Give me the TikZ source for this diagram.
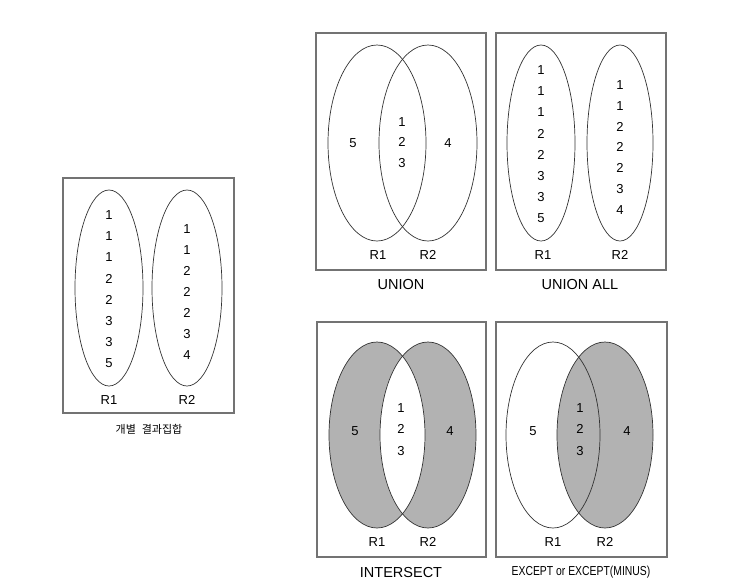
\documentclass[tikz,border=0pt]{standalone}
\usepackage{fontspec}
\setmainfont{Liberation Sans}
\newfontfamily\kr{Noto Sans CJK KR}
\begin{document}
\begin{tikzpicture}[x=1pt,y=-1pt,
  frame/.style={draw=black!55,line width=1.1pt},
  ell/.style={draw=black!80,line width=0.7pt},
  txt/.style={font=\fontsize{13}{15}\selectfont,inner sep=0pt},
  captxt/.style={font=\fontsize{14.5}{16}\selectfont,inner sep=0pt},
  shade/.style={fill=black!30}]
\useasboundingbox (0,0) rectangle (744,587);
% left box
\draw[frame] (63,178) rectangle (234,413);
\draw[ell] (109,288) ellipse[x radius=34,y radius=98];
\draw[ell] (187,288) ellipse[x radius=35,y radius=98];
\foreach \v [count=\i from 0] in {1,1,1,2,2,3,3,5}
  \node[txt] (l1\i) at (109,215+21.2*\i) {\v};
\foreach \v [count=\i from 0] in {1,1,2,2,2,3,4}
  \node[txt] (l2\i) at (187,229+21*\i) {\v};
\node[txt] (lr1) at (109,400) {R1};
\node[txt] (lr2) at (187,400) {R2};
\node[inner sep=0pt,font=\kr\fontsize{11}{13}\selectfont] (lcap) at (149,429) {개별\hspace{6pt}결과집합};
% UNION
\draw[frame] (316,33) rectangle (486,270);
\draw[ell] (377,143) ellipse[x radius=49,y radius=98];
\draw[ell] (428,143) ellipse[x radius=49,y radius=98];
\node[txt] (u1) at (402,122) {1};
\node[txt] (u2) at (402,142) {2};
\node[txt] (u3) at (402,163) {3};
\node[txt] (u5) at (353,143) {5};
\node[txt] (u4) at (448,143) {4};
\node[txt] (ur1) at (378,255) {R1};
\node[txt] (ur2) at (428,255) {R2};
\node[captxt] (ucap) at (401,285) {UNION};
% UNION ALL
\draw[frame] (496,33) rectangle (666,270);
\draw[ell] (541,143) ellipse[x radius=34,y radius=98];
\draw[ell] (620,143) ellipse[x radius=33,y radius=98];
\foreach \v [count=\i from 0] in {1,1,1,2,2,3,3,5}
  \node[txt] (a1\i) at (541,70+21.2*\i) {\v};
\foreach \v [count=\i from 0] in {1,1,2,2,2,3,4}
  \node[txt] (a2\i) at (620,85+20.8*\i) {\v};
\node[txt] (ar1) at (543,255) {R1};
\node[txt] (ar2) at (620,255) {R2};
\node[captxt] (acap) at (580,285) {UNION ALL};
% INTERSECT
\draw[frame] (317,322) rectangle (486,557);
\fill[shade] (377,435) ellipse[x radius=48,y radius=93];
\fill[shade] (428,435) ellipse[x radius=48,y radius=93];
\begin{scope}
\clip (377,435) ellipse[x radius=48,y radius=93];
\fill[white] (428,435) ellipse[x radius=48,y radius=93];
\end{scope}
\draw[ell] (377,435) ellipse[x radius=48,y radius=93];
\draw[ell] (428,435) ellipse[x radius=48,y radius=93];
\node[txt] (i1) at (401,408) {1};
\node[txt] (i2) at (401,429) {2};
\node[txt] (i3) at (401,451) {3};
\node[txt] (i5) at (355,431) {5};
\node[txt] (i4) at (450,431) {4};
\node[txt] (ir1) at (377,542) {R1};
\node[txt] (ir2) at (428,542) {R2};
\node[captxt] (icap) at (401,572) {INTERSECT};
% EXCEPT
\draw[frame] (496,322) rectangle (667,557);
\fill[shade] (605,435) ellipse[x radius=48,y radius=93];
\draw[ell] (553,435) ellipse[x radius=47,y radius=93];
\draw[ell] (605,435) ellipse[x radius=48,y radius=93];
\node[txt] (e1) at (580,408) {1};
\node[txt] (e2) at (580,429) {2};
\node[txt] (e3) at (580,451) {3};
\node[txt] (e5) at (533,431) {5};
\node[txt] (e4) at (627,431) {4};
\node[txt] (er1) at (553,542) {R1};
\node[txt] (er2) at (605,542) {R2};
\node[inner sep=0pt,font=\fontsize{13}{15}\selectfont,xscale=0.8] (ecap) at (581,572) {EXCEPT or EXCEPT(MINUS)};
\end{tikzpicture}
\end{document}
